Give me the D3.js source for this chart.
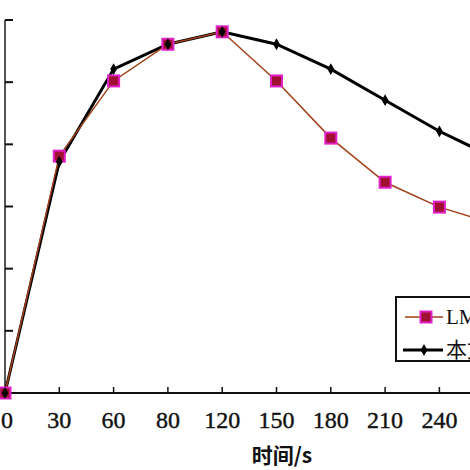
<!DOCTYPE html>
<html lang="zh">
<head>
    <meta charset="UTF-8">
    <title>时间曲线</title>
    <script src="https://cdn.jsdelivr.net/npm/d3@7"></script>
    <style>
        body { margin: 0; background: #fff; }
        .tick-label { font-family: "Liberation Serif", "DejaVu Serif", serif; font-size: 24px; fill: #111; stroke: #111; stroke-width: 0.4px; }
        .axis-title { font-family: "Noto Sans CJK SC", sans-serif; font-size: 21px; font-weight: bold; fill: #111; }
        .legend-text { font-family: "Liberation Serif", "Noto Sans CJK SC", serif; font-size: 21px; fill: #111; }
    </style>
</head>
<body>
<div id="chart"></div>
<script>
    const width = 470;
    const height = 470;

    // data
    const times = ["0", "30", "60", "80", "120", "150", "180", "210", "240", "270"];
    const lmValues = [0, 38.1, 50.2, 56.1, 58.1, 50.2, 41.0, 33.9, 29.9, 27.2];
    const oursValues = [0, 37.2, 52.1, 56.1, 58.1, 56.1, 52.1, 47.1, 42.1, 37.9];
    const yTicks = [0, 10, 20, 30, 40, 50, 60];
    const xLabels = ["0", "30", "60", "80", "120", "150", "180", "210", "240"];
    const seriesNames = ["LMS算法", "本文算法"];

    const AXIS_X = 5;
    const AXIS_Y = 393;
    const TOP_Y = 20;

    const svg = d3.select("#chart")
        .append("svg")
        .attr("width", width)
        .attr("height", height);

    const x = d3.scalePoint()
        .domain(times)
        .range([AXIS_X, AXIS_X + 54.3 * (times.length - 1)]);

    const y = d3.scaleLinear()
        .domain([0, 60])
        .range([AXIS_Y, TOP_Y]);

    // y axis (ticks pointing inwards, labels are off the picture)
    svg.append("line")
        .attr("x1", AXIS_X).attr("x2", AXIS_X)
        .attr("y1", y(60)).attr("y2", AXIS_Y)
        .attr("stroke", "#555").attr("stroke-width", 2);

    svg.selectAll("line.ytick")
        .data(yTicks)
        .enter()
        .append("line")
        .attr("class", "ytick")
        .attr("x1", AXIS_X).attr("x2", AXIS_X + 8)
        .attr("y1", function (d) { return y(d); })
        .attr("y2", function (d) { return y(d); })
        .attr("stroke", "#111").attr("stroke-width", 2);

    // x axis
    svg.append("line")
        .attr("x1", AXIS_X).attr("x2", width)
        .attr("y1", AXIS_Y).attr("y2", AXIS_Y)
        .attr("stroke", "#111").attr("stroke-width", 2);

    svg.selectAll("line.xtick")
        .data(times.slice(1))
        .enter()
        .append("line")
        .attr("class", "xtick")
        .attr("x1", function (d) { return x(d); })
        .attr("x2", function (d) { return x(d); })
        .attr("y1", AXIS_Y).attr("y2", AXIS_Y - 6)
        .attr("stroke", "#111").attr("stroke-width", 1.5);

    svg.selectAll("text.tick-label")
        .data(xLabels)
        .enter()
        .append("text")
        .attr("class", "tick-label")
        .attr("x", function (d) { return d === "0" ? x(d) + 2 : x(d); })
        .attr("y", 428)
        .attr("text-anchor", "middle")
        .text(function (d) { return d; });

    svg.append("text")
        .attr("class", "axis-title")
        .attr("x", 282)
        .attr("y", 463)
        .attr("text-anchor", "middle")
        .text("时间/s");

    // series
    const line = d3.line()
        .x(function (d, i) { return x(times[i]); })
        .y(function (d) { return y(d); });

    svg.append("path")
        .datum(oursValues)
        .attr("fill", "none")
        .attr("stroke", "#000")
        .attr("stroke-width", 3)
        .attr("d", line);

    svg.append("path")
        .datum(lmValues)
        .attr("fill", "none")
        .attr("stroke", "#a0401a")
        .attr("stroke-width", 1.5)
        .attr("d", line);

    svg.selectAll("rect.lm")
        .data(lmValues)
        .enter()
        .append("rect")
        .attr("class", "lm")
        .attr("x", function (d, i) { return x(times[i]) - 5.5; })
        .attr("y", function (d) { return y(d) - 5.5; })
        .attr("width", 11).attr("height", 11)
        .attr("fill", "#a01030")
        .attr("stroke", "#e020c8")
        .attr("stroke-width", 2);

    svg.selectAll("path.ours")
        .data(oursValues)
        .enter()
        .append("path")
        .attr("class", "ours")
        .attr("d", d3.symbol().type(d3.symbolDiamond).size(40))
        .attr("transform", function (d, i) {
            return "translate(" + x(times[i]) + "," + y(d) + ")";
        })
        .attr("fill", "#000");

    // legend (runs past the right edge, as in the picture)
    const legend = svg.append("g");
    legend.append("rect")
        .attr("x", 396).attr("y", 297)
        .attr("width", 120).attr("height", 64)
        .attr("fill", "#fff")
        .attr("stroke", "#111").attr("stroke-width", 2);

    legend.append("line")
        .attr("x1", 405).attr("x2", 443).attr("y1", 317).attr("y2", 317)
        .attr("stroke", "#a0401a").attr("stroke-width", 1.5);
    legend.append("rect")
        .attr("x", 420.5).attr("y", 311.5).attr("width", 11).attr("height", 11)
        .attr("fill", "#a01030").attr("stroke", "#e020c8").attr("stroke-width", 2);

    legend.append("line")
        .attr("x1", 403).attr("x2", 443).attr("y1", 350).attr("y2", 350)
        .attr("stroke", "#000").attr("stroke-width", 3);
    legend.append("path")
        .attr("d", d3.symbol().type(d3.symbolDiamond).size(40))
        .attr("transform", "translate(424,350)")
        .attr("fill", "#000");

    legend.selectAll("text")
        .data(seriesNames)
        .enter()
        .append("text")
        .attr("class", "legend-text")
        .attr("x", 446)
        .attr("y", function (d, i) { return 324 + i * 33; })
        .text(function (d) { return d; });
</script>
</body>
</html>
